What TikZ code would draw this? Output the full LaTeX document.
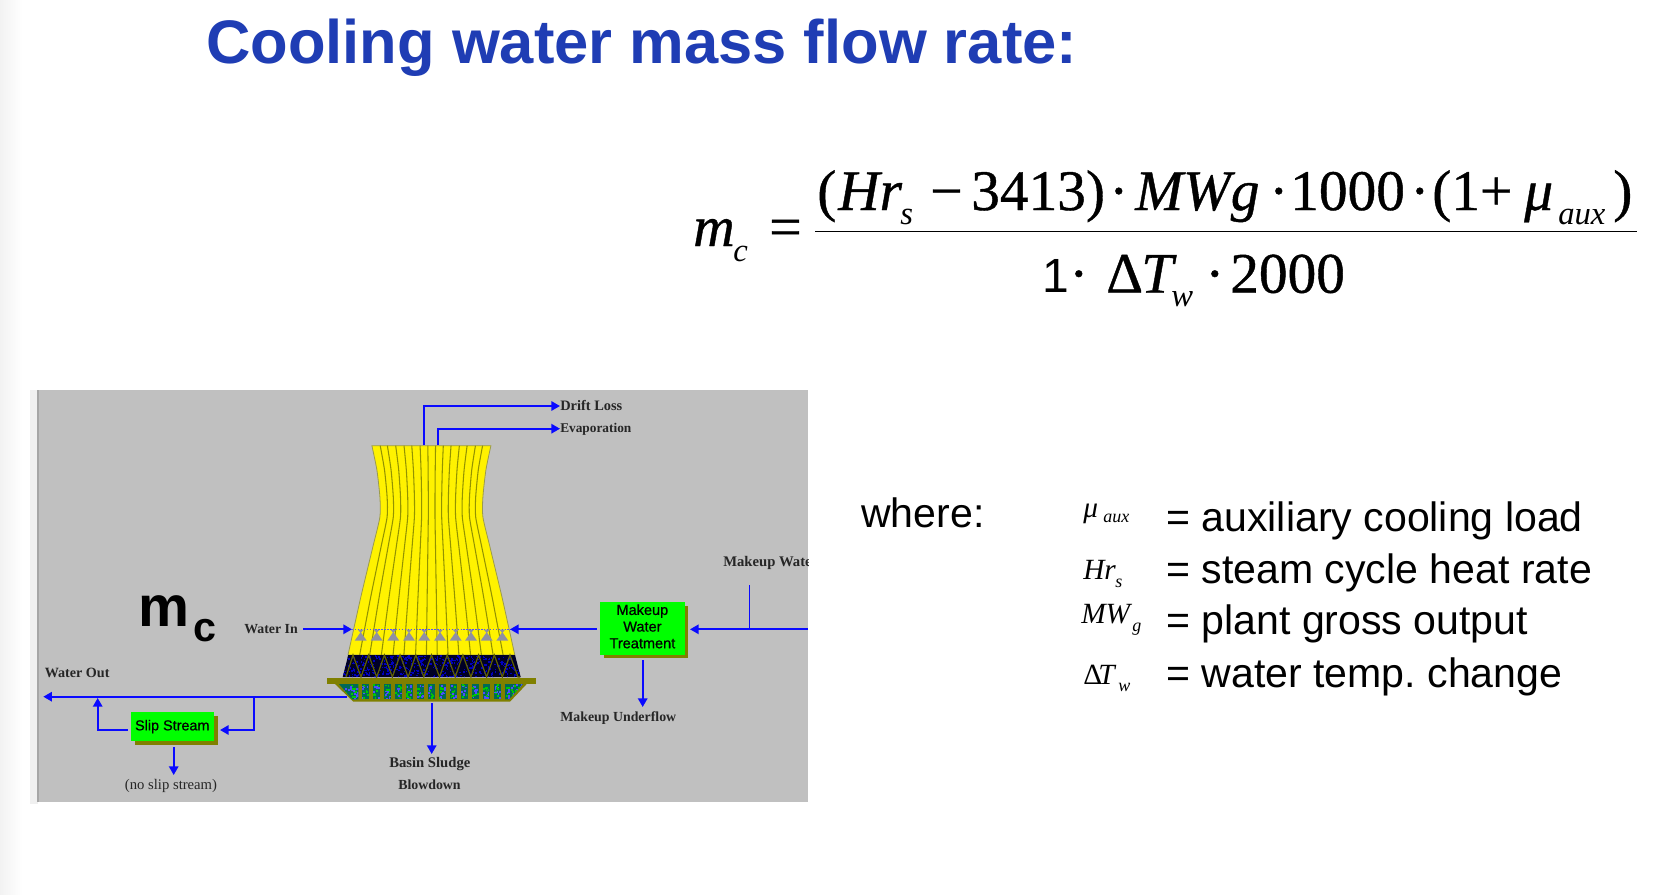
\documentclass[tikz,border=0pt]{standalone}
\usepackage{fontspec}
\setmainfont{Liberation Serif}
\setsansfont{Liberation Sans}
\usetikzlibrary{arrows.meta}
\definecolor{olv}{HTML}{808000}
\definecolor{pan}{HTML}{C0C0C0}
\definecolor{flow}{HTML}{0A0AFF}
\definecolor{ttl}{HTML}{1F3DB4}
\definecolor{grn}{HTML}{00FF00}
\definecolor{noz}{HTML}{9090A0}
\newcommand{\fb}{\addfontfeature{FakeBold=0.7}}
\tikzset{
  x=0.75pt,y=-0.75pt,
  flowline/.style={draw=flow,line width=1.5pt,-{Triangle[length=6.5pt,width=7pt]}},
  lab/.style={anchor=base west,inner sep=0pt,text=black!85,font=\bfseries\fontsize{10.4}{12}\selectfont},
  boxn/.style={draw=none,fill=grn,inner sep=0pt,anchor=north west,font=\sffamily\fontsize{10.9}{12.5}\selectfont\fb,align=center},
  eqb/.style={anchor=base west,inner sep=0pt,font=\fontsize{43}{48}\selectfont\fb},
  eqi/.style={anchor=base west,inner sep=0pt,font=\itshape\fontsize{43}{48}\selectfont\fb},
  eqs/.style={anchor=base west,inner sep=0pt,font=\itshape\fontsize{24.5}{30}\selectfont},
  defs/.style={anchor=base west,inner sep=0pt,font=\sffamily\fontsize{30.8}{36}\selectfont},
  symb/.style={anchor=base west,inner sep=0pt,font=\itshape\fontsize{22}{26}\selectfont},
  syms/.style={anchor=base west,inner sep=0pt,font=\itshape\fontsize{13.5}{15}\selectfont},
}
\begin{document}
\begin{tikzpicture}
\useasboundingbox (0,0) rectangle (1672,894);
\fill[white] (0,0) rectangle (1672,894);
\shade[left color=black!5,right color=white] (0,0) rectangle (22,894);
% panel
\fill[black!6] (30,390) rectangle (38,804);
\fill[pan] (38,390) rectangle (808,802);
\draw[black!35,line width=0.8pt] (38,390) -- (38,802);
% title
\node[anchor=base west,inner sep=0pt,text=ttl,font=\sffamily\bfseries\fontsize{46.1}{52}\selectfont] (title) at (206,63) {Cooling water mass flow rate:};
% equation
\node[eqi] (em) at (693,246) {m};
\node[eqs] (ec) at (733,261) {c};
\node[eqb] (eeq) at (769,246) {=};
\draw[line width=1.2pt] (815,231.5) -- (1637,231.5);
\node[eqb] (n1) at (817,210) {(};
\node[eqi] (n2) at (838,210) {Hr};
\node[eqs] (n3) at (900,224) {s};
\node[eqb] (n4a) at (930,210) {−};
\node[eqb] (n4) at (971,210) {3413)};
\node[eqb] (n5) at (1109,210) {·};
\node[eqi] (n6) at (1135,210) {MWg};
\node[eqb] (n7) at (1269,210) {·};
\node[eqb] (n8) at (1290,210) {1000};
\node[eqb] (n9) at (1410,210) {·};
\node[eqb] (n10) at (1432,210) {(1+};
\node[eqi] (n11) at (1524,210) {μ};
\node[eqs] (n12) at (1558,224) {aux};
\node[eqb] (n13) at (1613,210) {)};
\node[anchor=base west,inner sep=0pt,font=\sffamily\fontsize{36}{44}\selectfont] (d1) at (1042,292.7) {1};
\node[eqb] (d2) at (1069,292.7) {·};
\node[eqb] (d3) at (1106,292.7) {Δ};
\node[eqi] (d4) at (1141,292.7) {T};
\node[eqs] (d5) at (1171,306) {w};
\node[eqb] (d6) at (1205,292.7) {·};
\node[eqb] (d7) at (1230,292.7) {2000};
% definitions
\node[defs] (wh) at (861,527) {where:};
\node[defs] (t1) at (1166,531.5) {= auxiliary cooling load};
\node[defs] (t2) at (1166,583) {= steam cycle heat rate};
\node[defs] (t3) at (1166,634.5) {= plant gross output};
\node[defs] (t4) at (1166,687.5) {= water temp.\ change};
\node[symb] (s1) at (1083,517) {μ};
\node[syms] (s1b) at (1103,522) {aux};
\node[symb] (s2) at (1083,579) {Hr};
\node[syms] (s2b) at (1115,587) {s};
\node[symb] (s3) at (1081,623) {MW};
\node[syms] (s3b) at (1132,631) {g};
\node[symb,font=\fontsize{22}{26}\selectfont] (s4) at (1083,684) {Δ};
\node[symb] (s4c) at (1098,684) {T};
\node[syms] (s4b) at (1118,691) {w};
% tower shell
\fill[yellow,draw=olv!60!pan,line width=0.6pt]
  plot[smooth,tension=0.4] coordinates {({431.4-59.5},445.7) ({431.4-54.5},470) ({431.4-51.5},497) ({431.4-51.5},517) ({431.4-58.5},546.7) ({431.4-70.5},596.7) ({431.4-83.4},655)}
  -- plot[smooth,tension=0.4] coordinates {({431.4+83.4},655) ({431.4+70.5},596.7) ({431.4+58.5},546.7) ({431.4+51.5},517) ({431.4+51.5},497) ({431.4+54.5},470) ({431.4+59.5},445.7)} -- cycle;
\foreach \f in {-0.86,-0.74,-0.60,-0.46,-0.33,-0.19,-0.06,0.07,0.20,0.33,0.47,0.60,0.74,0.86}{
  \draw[olv!85!yellow,line width=0.8pt] plot[smooth,tension=0.4] coordinates {({431.4+\f*59.5},445.7) ({431.4+\f*54.5},470) ({431.4+\f*51.5},497) ({431.4+\f*51.5},517) ({431.4+\f*58.5},546.7) ({431.4+\f*70.5},596.7) ({431.4+\f*83.4},655)};
}
% nozzles
\foreach \xx in {360.7,376.7,393.3,409,424.3,440,455.7,471,486.7,502.3}{
  \fill[noz] (\xx-3,629.5) -- (\xx+3,629.5) -- (\xx,633) -- cycle;
  \fill[noz] (\xx-6,640.7) -- (\xx,632) -- (\xx+6,640.7) -- cycle;
}
\draw[flow!70!white,line width=1pt,dash pattern=on 1.1pt off 1.1pt] (352,629.3) -- (511,629.3);
% fill packing
\fill[black!85!blue] (348.3,655) -- (515,655) -- (520.7,677) -- (342.7,677) -- cycle;
\pgfmathsetseed{7}
\begin{scope}
\clip (348.3,655) -- (515,655) -- (520.7,677) -- (342.7,677) -- cycle;
\foreach \i in {1,...,450}{
  \pgfmathsetmacro{\px}{343+178*rnd}
  \pgfmathsetmacro{\py}{655+22*rnd}
  \fill[blue!75!black] (\px,\py) rectangle ++(1.5,1.5);
}
\end{scope}
\draw[olv!75!black,line width=0.9pt] (346,677)
  \foreach \k in {0,...,10}{ -- ({353+\k*15.7},655) -- ({361+\k*15.7},677) } -- (520,677);
% basin
\fill[olv] (327.3,678.3) rectangle (535.7,684);
\fill[olv] (335,684) -- (526.7,684) -- (510,701.7) -- (353.3,701.7) -- cycle;
\begin{scope}
\clip (339,684) -- (358.3,684) -- (358.3,699.3) -- (352,699.3) -- cycle
      (505,684) -- (523,684) -- (509,699.3) -- (505,699.3) -- cycle;
\fill[green!55!blue!75!black] (335,684) rectangle (527,700);
\foreach \i in {1,...,90}{
  \pgfmathsetmacro{\pu}{rnd}
  \pgfmathsetmacro{\px}{\pu<0.5?339+19*rnd:505+18*rnd}
  \pgfmathsetmacro{\py}{684+15*rnd}
  \ifodd\i \fill[blue!70] (\px,\py) rectangle ++(2,2); \else \fill[green!80!black] (\px,\py) rectangle ++(2,2); \fi
}
\end{scope}
\foreach \c in {0,...,12}{
  \pgfmathsetmacro{\cx}{361.7+\c*11}
  \fill[green!55!blue!75!black] (\cx,684) rectangle ++(7.3,15.3);
  \foreach \i in {1,...,16}{
    \pgfmathsetmacro{\px}{\cx+5.6*rnd}
    \pgfmathsetmacro{\py}{684+13.5*rnd}
    \ifodd\i \fill[blue!70] (\px,\py) rectangle ++(1.7,1.8); \else \fill[green!80!black] (\px,\py) rectangle ++(1.7,1.8); \fi
  }
}
% boxes
\fill[olv] (134.7,715.7) rectangle (218,745);
\node[boxn,minimum width=62pt,minimum height=22pt,font=\sffamily\fontsize{10.8}{12}\selectfont\fb] (slip) at (130.7,711.7) {Slip Stream};
\fill[olv] (604,605.7) rectangle (688.3,658.3);
\node[boxn,minimum width=63.2pt,minimum height=39.5pt] (treat) at (600,601.7) {Makeup\\Water\\Treatment\rule[-3pt]{0pt}{0pt}};
% labels
\node[lab,font=\bfseries\fontsize{10.8}{12}\selectfont] (drift) at (560,410) {Drift Loss};
\node[lab,font=\bfseries\fontsize{10}{12}\selectfont] (evap) at (560,432) {Evaporation};
\node[lab] (win) at (244,633) {Water In};
\node[lab,font=\bfseries\fontsize{10.6}{12}\selectfont] (wout) at (44.5,677) {Water Out};
\node[lab,font=\fontsize{11}{12}\selectfont] (noslip) at (124.7,789) {(no slip stream)};
\node[lab,font=\bfseries\fontsize{11}{12}\selectfont] (basin) at (389,767) {Basin Sludge};
\node[lab] (blow) at (398,789) {Blowdown};
\node[lab] (under) at (560,721.7) {Makeup Underflow};
\begin{scope}
\clip (38,390) rectangle (808,802);
\node[lab,font=\bfseries\fontsize{11}{12}\selectfont] (mwat) at (723,566) {Makeup Water};
\end{scope}
% m_c
\node[anchor=base west,inner sep=0pt,font=\sffamily\bfseries\fontsize{43}{50}\selectfont] (bigm) at (138,626.7) {m};
\node[anchor=base west,inner sep=0pt,font=\sffamily\bfseries\fontsize{31}{36}\selectfont] (bigc) at (193,641.7) {c};
% connector ends
\coordinate (towerA) at (424,445);
\coordinate (driftA) at (424,406);
\coordinate (driftB) at (560,406);
\coordinate (towerB) at (438.3,445);
\coordinate (evapA) at (438.3,428.7);
\coordinate (evapB) at (560,428.7);
\coordinate (winA) at (303,629.3);
\coordinate (winB) at (352,629.3);
\coordinate (rinA) at (596.7,629.3);
\coordinate (rinB) at (510,629.3);
\coordinate (mkA) at (808,629.3);
\coordinate (mkB) at (690,629.3);
\coordinate (mkT) at (749.3,585);
\coordinate (mkC) at (749.3,629.3);
\coordinate (undA) at (642.7,660);
\coordinate (undB) at (642.7,707);
\coordinate (basA) at (431.7,703);
\coordinate (basB) at (431.7,754);
\coordinate (outA) at (347,696.7);
\coordinate (outB) at (43.3,696.7);
\coordinate (brA) at (254.3,696.7);
\coordinate (brB) at (254.3,730);
\coordinate (brC) at (220,730);
\coordinate (slA) at (127.7,730);
\coordinate (slB) at (97.7,730);
\coordinate (slC) at (97.7,698);
\coordinate (dnA) at (173.7,747);
\coordinate (dnB) at (173.7,775);
\draw[flowline] (towerA) -- (driftA) -- (driftB);
\draw[flowline] (towerB) -- (evapA) -- (evapB);
\draw[flowline] (winA) -- (winB);
\draw[flowline] (rinA) -- (rinB);
\draw[flowline] (mkA) -- (mkB);
\draw[draw=flow,line width=0.8pt] (mkT) -- (mkC);
\draw[flowline] (undA) -- (undB);
\draw[flowline] (basA) -- (basB);
\draw[flowline] (outA) -- (outB);
\draw[flowline] (brA) -- (brB) -- (brC);
\draw[flowline] (slA) -- (slB) -- (slC);
\draw[flowline] (dnA) -- (dnB);
\end{tikzpicture}
\end{document}
